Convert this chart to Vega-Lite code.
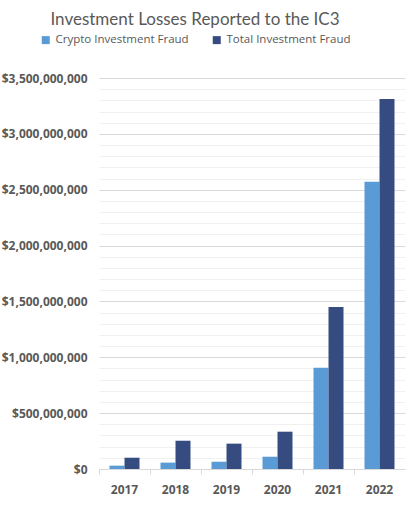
{
  "$schema": "https://vega.github.io/schema/vega-lite/v6.json",
  "autosize": "none",
  "width": 306,
  "height": 391,
  "padding": {"left": 99, "top": 78, "right": 4, "bottom": 41},
  "background": "white",
  "title": {
    "text": "Investment Losses Reported to the IC3",
    "anchor": "middle",
    "frame": "group",
    "dx": -57,
    "offset": 5,
    "font": "Lato",
    "fontSize": 17,
    "fontWeight": "normal",
    "color": "#595959"
  },
  "data": {
    "values": [
      {"year": "2017", "series": "Crypto Investment Fraud", "value": 30000000},
      {"year": "2018", "series": "Crypto Investment Fraud", "value": 57000000},
      {"year": "2019", "series": "Crypto Investment Fraud", "value": 65000000},
      {"year": "2020", "series": "Crypto Investment Fraud", "value": 110000000},
      {"year": "2021", "series": "Crypto Investment Fraud", "value": 907000000},
      {"year": "2022", "series": "Crypto Investment Fraud", "value": 2572000000},
      {"year": "2017", "series": "Total Investment Fraud", "value": 101000000},
      {"year": "2018", "series": "Total Investment Fraud", "value": 253000000},
      {"year": "2019", "series": "Total Investment Fraud", "value": 227000000},
      {"year": "2020", "series": "Total Investment Fraud", "value": 334000000},
      {"year": "2021", "series": "Total Investment Fraud", "value": 1450000000},
      {"year": "2022", "series": "Total Investment Fraud", "value": 3312000000}
    ]
  },
  "mark": "bar",
  "encoding": {
    "x": {
      "field": "year",
      "type": "ordinal",
      "title": null,
      "scale": {"paddingInner": 0, "paddingOuter": 0},
      "axis": {
        "labelAngle": 0,
        "bandPosition": 0,
        "tickSize": 5,
        "labelPadding": 10,
        "domainColor": "#d9d9d9",
        "tickColor": "#d9d9d9",
        "grid": false
      }
    },
    "xOffset": {
      "field": "series",
      "type": "nominal",
      "sort": ["Crypto Investment Fraud", "Total Investment Fraud"],
      "scale": {"paddingInner": 0, "paddingOuter": 0.7}
    },
    "y": {
      "field": "value",
      "type": "quantitative",
      "title": null,
      "scale": {"domain": [0, 3500000000], "nice": false},
      "axis": {
        "values": [0, 100000000, 200000000, 300000000, 400000000, 500000000, 600000000, 700000000, 800000000, 900000000, 1000000000, 1100000000, 1200000000, 1300000000, 1400000000, 1500000000, 1600000000, 1700000000, 1800000000, 1900000000, 2000000000, 2100000000, 2200000000, 2300000000, 2400000000, 2500000000, 2600000000, 2700000000, 2800000000, 2900000000, 3000000000, 3100000000, 3200000000, 3300000000, 3400000000, 3500000000],
        "format": "$,.0f",
        "labelExpr": "datum.value % 500000000 === 0 ? datum.label : ''",
        "gridColor": {
          "condition": {"test": "datum.value % 500000000 === 0", "value": "#d9d9d9"},
          "value": "#f0f0f0"
        },
        "domain": false,
        "ticks": false,
        "labelPadding": 12
      }
    },
    "color": {
      "field": "series",
      "type": "nominal",
      "title": null,
      "scale": {
        "domain": ["Crypto Investment Fraud", "Total Investment Fraud"],
        "range": ["#5b9bd5", "#364c81"]
      },
      "legend": {
        "orient": "none",
        "direction": "horizontal",
        "legendX": -59,
        "legendY": -44,
        "symbolType": "square",
        "symbolSize": 64,
        "columnPadding": 22,
        "labelOffset": 4
      }
    }
  },
  "config": {
    "view": {"stroke": null},
    "axis": {
      "labelFont": "Open Sans",
      "labelFontSize": 12,
      "labelFontWeight": "bold",
      "labelColor": "#595959"
    },
    "legend": {
      "labelFont": "Open Sans",
      "labelFontSize": 11.5,
      "labelColor": "#595959"
    }
  }
}
